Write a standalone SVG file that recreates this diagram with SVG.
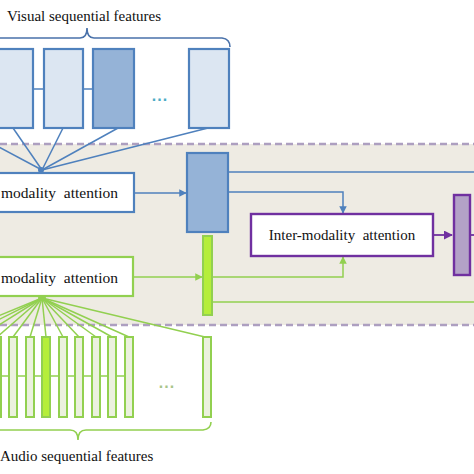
<svg xmlns="http://www.w3.org/2000/svg" width="474" height="474" viewBox="0 0 474 474">
<defs>
<style>
.vb{fill:#dce6f2;stroke:#4f81bd;stroke-width:2.2}
.vd{fill:#95b3d7;stroke:#4f81bd;stroke-width:2.2}
.ab{fill:#ebf1de;stroke:#92d050;stroke-width:2}
.aa{fill:#b5ee3a;stroke:#92d050;stroke-width:2}
.bl{stroke:#4f81bd;stroke-width:1.5;fill:none}
.gl{stroke:#92d050;stroke-width:1.5;fill:none}
.pl{stroke:#7030a0;stroke-width:1.8;fill:none}
.dash{stroke:#ad9fc0;stroke-width:2.5;stroke-dasharray:7,4}
</style>
<marker id="ab" viewBox="0 0 10 10" refX="9" refY="5" markerWidth="5" markerHeight="5" orient="auto"><path d="M0,0L10,5L0,10z" fill="#4f81bd"/></marker>
<marker id="ag" viewBox="0 0 10 10" refX="9" refY="5" markerWidth="5" markerHeight="5" orient="auto"><path d="M0,0L10,5L0,10z" fill="#92d050"/></marker>
<marker id="ap" viewBox="0 0 10 10" refX="9" refY="5" markerWidth="5" markerHeight="5" orient="auto"><path d="M0,0L10,5L0,10z" fill="#7030a0"/></marker>
</defs>
<rect x="0" y="0" width="474" height="474" fill="#fff"/>
<rect x="0" y="144" width="474" height="181" fill="#eeebe3"/>
<line class="dash" x1="0" y1="144" x2="474" y2="144"/>
<line class="dash" x1="0" y1="325" x2="474" y2="325"/>

<text x="7" y="21" font-family="Liberation Serif, Times New Roman, serif" font-size="15" fill="#111">Visual sequential features</text>
<path d="M0,38 L80,38 Q87,38 87,28 Q87,38 94,38 L222,38 Q230,39 230,47" stroke="#4a72aa" stroke-width="1.6" fill="none"/>

<g id="connectors">
<line class="bl" x1="13" y1="89" x2="44" y2="89"/>
<line class="bl" x1="83" y1="89" x2="93" y2="89"/>
<line class="bl" x1="-37" y1="128" x2="42" y2="170"/>
<line class="bl" x1="13" y1="128" x2="42" y2="170"/>
<line class="bl" x1="63" y1="128" x2="42" y2="170"/>
<line class="bl" x1="118" y1="128" x2="42" y2="170"/>
<line class="bl" x1="208" y1="128" x2="42" y2="170"/>
<circle cx="41" cy="170" r="3" fill="#4f81bd"/>
<line class="bl" x1="134" y1="193" x2="186" y2="193" marker-end="url(#ab)"/>
<line class="bl" x1="228" y1="172" x2="474" y2="172"/>
<polyline class="bl" points="228,192 343,192 343,213" marker-end="url(#ab)"/>
<line class="gl" x1="133" y1="277" x2="202" y2="277" marker-end="url(#ag)"/>
<polyline class="gl" points="212,277 343,277 343,257" marker-end="url(#ag)"/>
<line class="gl" x1="212" y1="302" x2="474" y2="302"/>
<line class="pl" x1="433" y1="235" x2="452" y2="235" marker-end="url(#ap)"/>
<line class="pl" x1="470" y1="235" x2="474" y2="235"/>
<g class="gl">
<line x1="42" y1="298" x2="-53" y2="337"/>
<line x1="42" y1="298" x2="-36" y2="337"/>
<line x1="42" y1="298" x2="-20" y2="337"/>
<line x1="42" y1="298" x2="-3" y2="337"/>
<line x1="42" y1="298" x2="13" y2="337"/>
<line x1="42" y1="298" x2="30" y2="337"/>
<line x1="42" y1="298" x2="46" y2="337"/>
<line x1="42" y1="298" x2="63" y2="337"/>
<line x1="42" y1="298" x2="79" y2="337"/>
<line x1="42" y1="298" x2="96" y2="337"/>
<line x1="42" y1="298" x2="112" y2="337"/>
<line x1="42" y1="298" x2="129" y2="337"/>
<line x1="42" y1="298" x2="205" y2="337"/>
<line x1="0" y1="376" x2="129" y2="376"/>
</g>
<ellipse cx="42" cy="298" rx="4" ry="2.5" fill="#92d050"/>
</g>

<g id="visual-features">
<rect class="vb" x="-6" y="49" width="39" height="79"/>
<rect class="vb" x="44" y="49" width="39" height="79"/>
<rect class="vd" x="93" y="49" width="41" height="79"/>
<rect class="vb" x="189" y="49" width="40" height="79"/>
<text x="160" y="101" font-family="Liberation Sans, Arial, sans-serif" font-size="16" font-weight="bold" fill="#4bacc6" text-anchor="middle" letter-spacing="1">...</text>
</g>

<g id="visual-intra">
<rect x="-4" y="173" width="138" height="39" fill="#fff" stroke="#4f81bd" stroke-width="2.2"/>
<text x="1" y="198" font-family="Liberation Serif, Times New Roman, serif" font-size="15.5" fill="#111" xml:space="preserve">modality  attention</text>
</g>

<g id="visual-feature-vector">
<rect class="vd" x="187" y="153" width="41" height="79"/>
</g>

<g id="audio-intra">
<rect x="-4" y="257" width="137" height="39" fill="#fff" stroke="#92d050" stroke-width="2.2"/>
<text x="1" y="283" font-family="Liberation Serif, Times New Roman, serif" font-size="15.5" fill="#111" xml:space="preserve">modality  attention</text>
</g>

<g id="audio-feature-vector">
<rect class="aa" x="203" y="236" width="9" height="79"/>
</g>

<g id="inter">
<rect x="251" y="214" width="182" height="42" fill="#fff" stroke="#7030a0" stroke-width="2.4"/>
<text x="342" y="240" font-family="Liberation Serif, Times New Roman, serif" font-size="15" fill="#111" text-anchor="middle" xml:space="preserve">Inter-modality  attention</text>
</g>

<g id="fused">
<rect x="454" y="195" width="16" height="80" fill="#b3a2c7" stroke="#7030a0" stroke-width="2.4"/>
</g>

<g id="audio-features">
<rect class="ab" x="-7" y="337" width="8" height="80"/>
<rect class="ab" x="9" y="337" width="8" height="80"/>
<rect class="ab" x="26" y="337" width="8" height="80"/>
<rect class="aa" x="42" y="337" width="8" height="80"/>
<rect class="ab" x="59" y="337" width="8" height="80"/>
<rect class="ab" x="75" y="337" width="8" height="80"/>
<rect class="ab" x="92" y="337" width="8" height="80"/>
<rect class="ab" x="108" y="337" width="8" height="80"/>
<rect class="ab" x="125" y="337" width="8" height="80"/>
<rect class="ab" x="203" y="337" width="8" height="80"/>
<text x="167" y="388" font-family="Liberation Sans, Arial, sans-serif" font-size="16" font-weight="bold" fill="#a8c58a" text-anchor="middle" letter-spacing="1">...</text>
</g>

<path d="M0,430 L70,430 Q78,430 78,440 Q78,430 86,430 L203,430 Q211,429 211,422" stroke="#92d050" stroke-width="1.6" fill="none"/>
<text x="0" y="461" font-family="Liberation Serif, Times New Roman, serif" font-size="15" fill="#111">Audio sequential features</text>
</svg>
